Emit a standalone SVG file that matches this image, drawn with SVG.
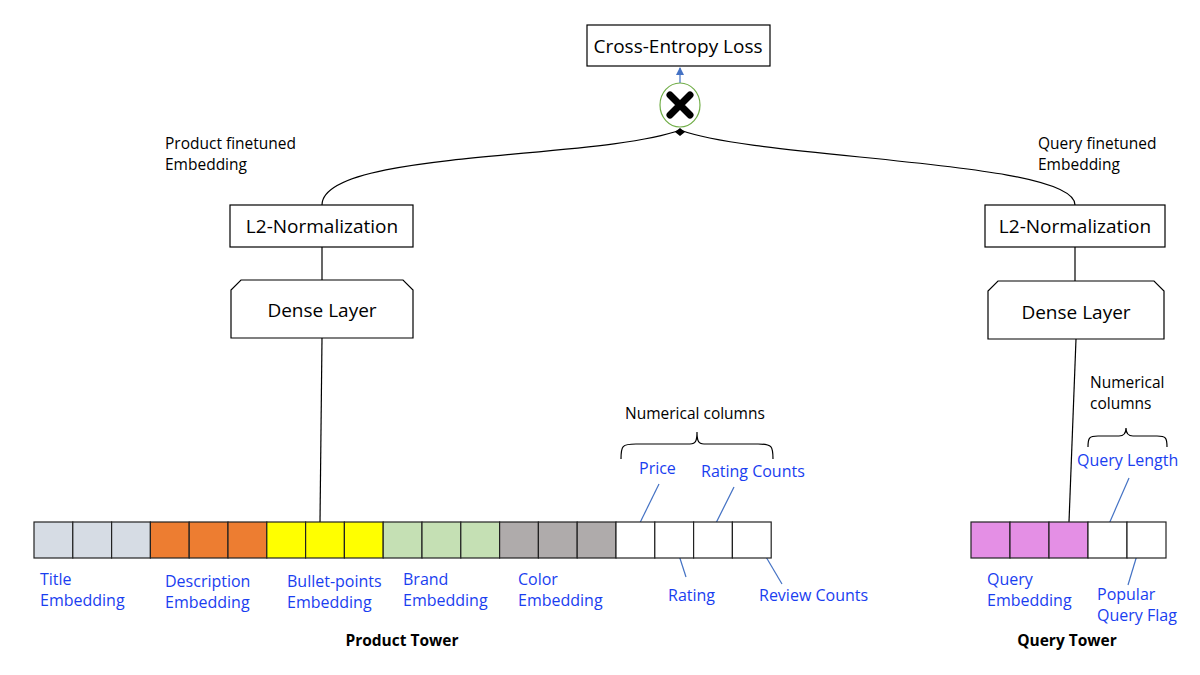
<svg xmlns="http://www.w3.org/2000/svg" width="1200" height="675" viewBox="0 0 1200 675">
<style>
text{font-family:"Open Sans","Noto Sans",sans-serif;}
.box{fill:#fff;stroke:#000;stroke-width:1.2}
.lbl{font-size:19px;fill:#000;text-anchor:middle}
.t{font-size:15.5px;fill:#000}
.b{font-size:16px;fill:#1a3ef0}
.c{stroke:#222;stroke-width:1.2}
.ln{fill:none;stroke:#000;stroke-width:1.2}
.ar{fill:none;stroke:#4472c4;stroke-width:1.2;marker-end:url(#ah)}
</style>
<defs>
<marker id="ah" markerWidth="8" markerHeight="8" refX="7" refY="4" orient="auto" markerUnits="userSpaceOnUse"><path d="M0,0 L8,4 L0,8 z" fill="#4472c4"/></marker>
</defs>
<rect width="1200" height="675" fill="#fff"/>
<g id="connectors">
<path class="ln" d="M322,205 C322,150 600,160 680,130"/>
<path class="ln" d="M1075,205 C1075,160 760,160 680,130"/>
<line class="ln" x1="322" y1="247" x2="322" y2="280"/>
<line class="ln" x1="1075" y1="247" x2="1075" y2="281"/>
<line class="ln" x1="322" y1="338" x2="320" y2="522"/>
<line class="ln" x1="1076" y1="339" x2="1069" y2="522"/>
<path d="M675,132 L680,128 L685,132 L680,136 z" fill="#000"/>
<line class="ar" x1="680" y1="83" x2="680" y2="68"/>
<path class="ln" d="M621,459 C621,446 622,444 636,444 L690,444 C696,444 697,440 697,432 C697,440 698,444 704,444 L758,444 C772,444 773,446 773,459"/>
<path class="ln" d="M1088,447 C1088,438 1089,436 1098,436 L1119,436 C1124,436 1126,433 1126,428 C1126,433 1128,436 1133,436 L1157,436 C1166,436 1167,438 1167,447"/>
<line class="ar" x1="659" y1="484" x2="632" y2="539"/>
<line class="ar" x1="686" y1="577" x2="675" y2="543"/>
<line class="ar" x1="734" y1="487" x2="706" y2="543"/>
<line class="ar" x1="782" y1="584" x2="759" y2="545"/>
<line class="ar" x1="1129" y1="478" x2="1102" y2="540"/>
<line class="ar" x1="1128" y1="585" x2="1141" y2="542"/>
</g>
<g id="loss"><rect class="box" x="587" y="25" width="183" height="41"/><text class="lbl" x="678" y="53" font-size="17">Cross-Entropy Loss</text></g>
<g id="mult"><ellipse cx="680" cy="105" rx="20" ry="22" fill="#fff" stroke="#70ad47" stroke-width="1.2"/><path d="M670,95 L690,115 M690,95 L670,115" stroke="#000" stroke-width="7" stroke-linecap="round"/></g>
<g id="l2left"><rect class="box" x="230" y="205" width="183" height="42"/><text class="lbl" x="322" y="233">L2-Normalization</text></g>
<g id="l2right"><rect class="box" x="985" y="205" width="180" height="42"/><text class="lbl" x="1075" y="233">L2-Normalization</text></g>
<g id="denseLeft"><path class="box" d="M231,338 L231,290 L241,280 L403,280 L413,290 L413,338 z"/><text class="lbl" x="322" y="317">Dense Layer</text></g>
<g id="denseRight"><path class="box" d="M988,339 L988,291 L998,281 L1154,281 L1164,291 L1164,339 z"/><text class="lbl" x="1076" y="319">Dense Layer</text></g>
<text class="t" x="165" y="149">Product finetuned</text>
<text class="t" x="165" y="170">Embedding</text>
<text class="t" x="1038" y="149">Query finetuned</text>
<text class="t" x="1038" y="170">Embedding</text>
<text class="t" x="625" y="419">Numerical columns</text>
<text class="t" x="1090" y="388">Numerical</text>
<text class="t" x="1090" y="409">columns</text>
<g id="productCells">
<rect class="c" x="34" y="522" width="38.8" height="36" fill="#d6dce4"/><rect class="c" x="72.8" y="522" width="38.8" height="36" fill="#d6dce4"/><rect class="c" x="111.6" y="522" width="38.8" height="36" fill="#d6dce4"/>
<rect class="c" x="150.4" y="522" width="38.8" height="36" fill="#ed7d31"/><rect class="c" x="189.2" y="522" width="38.8" height="36" fill="#ed7d31"/><rect class="c" x="228" y="522" width="38.8" height="36" fill="#ed7d31"/>
<rect class="c" x="266.8" y="522" width="38.8" height="36" fill="#ffff00"/><rect class="c" x="305.6" y="522" width="38.8" height="36" fill="#ffff00"/><rect class="c" x="344.4" y="522" width="38.8" height="36" fill="#ffff00"/>
<rect class="c" x="383.2" y="522" width="38.8" height="36" fill="#c5e0b4"/><rect class="c" x="422" y="522" width="38.8" height="36" fill="#c5e0b4"/><rect class="c" x="460.8" y="522" width="38.8" height="36" fill="#c5e0b4"/>
<rect class="c" x="499.6" y="522" width="38.8" height="36" fill="#afabab"/><rect class="c" x="538.4" y="522" width="38.8" height="36" fill="#afabab"/><rect class="c" x="577.2" y="522" width="38.8" height="36" fill="#afabab"/>
<rect class="c" x="616" y="522" width="38.8" height="36" fill="#fff"/><rect class="c" x="654.8" y="522" width="38.8" height="36" fill="#fff"/><rect class="c" x="693.6" y="522" width="38.8" height="36" fill="#fff"/><rect class="c" x="732.4" y="522" width="38.8" height="36" fill="#fff"/>
</g>
<g id="queryCells">
<rect class="c" x="971" y="522" width="39" height="36" fill="#e48fe5"/><rect class="c" x="1010" y="522" width="39" height="36" fill="#e48fe5"/><rect class="c" x="1049" y="522" width="39" height="36" fill="#e48fe5"/>
<rect class="c" x="1088" y="522" width="39" height="36" fill="#fff"/><rect class="c" x="1127" y="522" width="39" height="36" fill="#fff"/>
</g>
<text class="b" x="40" y="585">Title</text><text class="b" x="40" y="606">Embedding</text>
<text class="b" x="165" y="587">Description</text><text class="b" x="165" y="608">Embedding</text>
<text class="b" x="287" y="587">Bullet-points</text><text class="b" x="287" y="608">Embedding</text>
<text class="b" x="403" y="585">Brand</text><text class="b" x="403" y="606">Embedding</text>
<text class="b" x="518" y="585">Color</text><text class="b" x="518" y="606">Embedding</text>
<text class="b" x="639" y="474">Price</text>
<text class="b" x="701" y="477">Rating Counts</text>
<text class="b" x="668" y="601">Rating</text>
<text class="b" x="759" y="601">Review Counts</text>
<text class="b" x="1077" y="466">Query Length</text>
<text class="b" x="987" y="585">Query</text><text class="b" x="987" y="606">Embedding</text>
<text class="b" x="1097" y="600">Popular</text><text class="b" x="1097" y="621">Query Flag</text>
<text class="t" x="402" y="646" text-anchor="middle" font-weight="bold">Product Tower</text>
<text class="t" x="1067" y="646" text-anchor="middle" font-weight="bold">Query Tower</text>
</svg>
